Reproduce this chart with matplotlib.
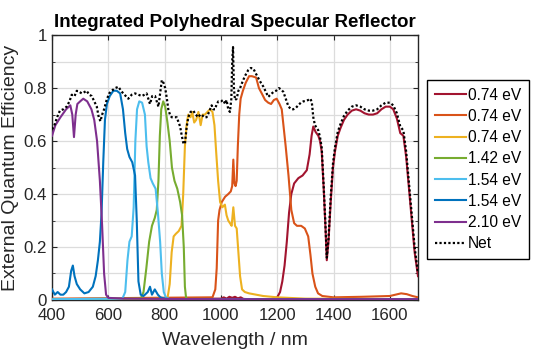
import numpy as np
import matplotlib
matplotlib.use("Agg")
import matplotlib.pyplot as plt
from matplotlib.ticker import MultipleLocator, FormatStrFormatter

# ---- data (wavelength nm, EQE) ----
wl_210 = [400, 412, 430, 450, 465, 472, 478, 484, 490, 500, 511, 525, 540, 550,
          560, 570, 578, 585, 592, 600, 650, 800, 1000, 1700]
eqe_210 = [0.62, 0.66, 0.69, 0.72, 0.735, 0.70, 0.615, 0.70, 0.74, 0.75, 0.76,
           0.75, 0.72, 0.68, 0.60, 0.45, 0.28, 0.10, 0.02, 0.008, 0.005, 0.004,
           0.003, 0.003]

wl_154b = [400, 410, 420, 430, 440, 450, 460, 468, 474, 480, 488, 500, 515, 530,
           545, 555, 563, 570, 576, 582, 588, 595, 605, 618, 630, 642, 652, 660,
           667, 675, 685, 695, 701, 707, 715, 725, 740, 748, 755, 765, 776, 785,
           800, 830, 900, 1700]
eqe_154b = [0.04, 0.02, 0.03, 0.02, 0.02, 0.03, 0.05, 0.11, 0.13, 0.09, 0.06,
            0.04, 0.025, 0.03, 0.05, 0.09, 0.15, 0.22, 0.33, 0.52, 0.68, 0.74,
            0.77, 0.79, 0.79, 0.78, 0.72, 0.63, 0.57, 0.54, 0.52, 0.47, 0.30,
            0.07, 0.02, 0.015, 0.03, 0.05, 0.02, 0.04, 0.02, 0.01, 0.005, 0.003,
            0.002, 0.002]

wl_154a = [400, 650, 660, 668, 675, 683, 690, 696, 702, 710, 720, 730, 736, 742,
           750, 758, 768, 776, 784, 790, 797, 805, 820, 1700]
eqe_154a = [0.003, 0.005, 0.03, 0.15, 0.22, 0.24, 0.35, 0.60, 0.72, 0.75, 0.745,
            0.70, 0.58, 0.52, 0.46, 0.44, 0.42, 0.33, 0.22, 0.10, 0.03, 0.008,
            0.003, 0.002]

wl_142 = [400, 715, 725, 735, 745, 755, 765, 772, 778, 783, 788, 795, 802, 810,
          818, 826, 835, 845, 855, 862, 868, 872, 876, 880, 1700]
eqe_142 = [0.003, 0.005, 0.03, 0.12, 0.22, 0.28, 0.31, 0.34, 0.45, 0.62, 0.72,
           0.75, 0.73, 0.67, 0.60, 0.50, 0.45, 0.42, 0.37, 0.32, 0.20, 0.05,
           0.01, 0.004, 0.002]

wl_074c = [400, 810, 818, 825, 832, 840, 850, 860, 866, 872, 878, 884, 892, 898,
           905, 912, 920, 928, 935, 943, 952, 961, 970, 977, 983, 990, 997, 1005,
           1014, 1020, 1026, 1032, 1038, 1044, 1050, 1056, 1062, 1068, 1075,
           1085, 1100, 1150, 1200, 1300, 1700]
eqe_074c = [0.002, 0.005, 0.06, 0.18, 0.24, 0.25, 0.26, 0.28, 0.40, 0.58, 0.66,
            0.70, 0.69, 0.71, 0.67, 0.68, 0.71, 0.66, 0.70, 0.70, 0.71, 0.72,
            0.71, 0.66, 0.56, 0.45, 0.37, 0.35, 0.36, 0.32, 0.30, 0.29, 0.28,
            0.35, 0.28, 0.27, 0.18, 0.09, 0.04, 0.03, 0.025, 0.015, 0.01, 0.005,
            0.003]

wl_074b = [400, 970, 980, 985, 990, 995, 1003, 1015, 1026, 1035, 1040, 1044,
           1048, 1052, 1056, 1060, 1065, 1070, 1078, 1088, 1100, 1110, 1125,
           1135, 1145, 1157, 1168, 1178, 1188, 1198, 1208, 1216, 1222, 1230,
           1240, 1250, 1260, 1270, 1285, 1298, 1310, 1318, 1325, 1335, 1345,
           1360, 1400, 1500, 1600, 1640, 1660, 1680, 1700]
eqe_074b = [0.005, 0.01, 0.04, 0.12, 0.30, 0.34, 0.37, 0.39, 0.40, 0.41, 0.43,
            0.53, 0.44, 0.43, 0.45, 0.58, 0.70, 0.76, 0.79, 0.82, 0.845, 0.845,
            0.84, 0.80, 0.78, 0.755, 0.745, 0.74, 0.755, 0.76, 0.74, 0.72, 0.66,
            0.58, 0.47, 0.34, 0.29, 0.28, 0.28, 0.27, 0.24, 0.17, 0.10, 0.05,
            0.025, 0.015, 0.01, 0.012, 0.015, 0.025, 0.022, 0.015, 0.01]

wl_074a = [400, 1000, 1010, 1020, 1030, 1040, 1050, 1060, 1070, 1080, 1100,
           1180, 1200, 1210, 1218, 1226, 1234, 1242, 1250, 1260, 1275, 1290,
           1305, 1315, 1322, 1328, 1336, 1346, 1352, 1358, 1365, 1371, 1376,
           1382, 1390, 1398, 1405, 1415, 1425, 1437, 1450, 1465, 1480, 1495,
           1510, 1525, 1540, 1555, 1570, 1585, 1600, 1612, 1625, 1637, 1648,
           1658, 1668, 1678, 1688, 1700]
eqe_074a = [0.003, 0.005, 0.01, 0.005, 0.012, 0.008, 0.012, 0.006, 0.01, 0.004,
            0.003, 0.003, 0.01, 0.03, 0.07, 0.13, 0.22, 0.33, 0.40, 0.44, 0.46,
            0.47, 0.49, 0.55, 0.62, 0.655, 0.635, 0.62, 0.60, 0.56, 0.42, 0.28,
            0.15, 0.22, 0.37, 0.50, 0.56, 0.62, 0.65, 0.68, 0.70, 0.715, 0.72,
            0.715, 0.705, 0.70, 0.70, 0.705, 0.72, 0.73, 0.73, 0.72, 0.685,
            0.63, 0.62, 0.54, 0.42, 0.30, 0.18, 0.09]

wl_net = [400, 407, 418, 428, 440, 452, 462, 470, 480, 488, 498, 506, 515, 523,
          532, 541, 550, 559, 566, 572, 578, 585, 594, 603, 612, 624, 636, 645,
          653, 662, 671, 683, 695, 707, 719, 728, 736, 742, 748, 756, 766, 772,
          778, 784, 790, 796, 802, 808, 813, 819, 825, 834, 843, 850, 855, 861,
          867, 872, 878, 884, 892, 902, 910, 920, 926, 932, 940, 949, 958, 967,
          973, 979, 985, 991, 1000, 1008, 1015, 1020, 1026, 1032, 1037, 1040,
          1043, 1046, 1050, 1056, 1062, 1068, 1074, 1085, 1097, 1106, 1115,
          1124, 1133, 1142, 1151, 1160, 1168, 1176, 1186, 1196, 1206, 1214,
          1222, 1230, 1240, 1250, 1257, 1266, 1275, 1284, 1293, 1302, 1310,
          1318, 1323, 1328, 1334, 1340, 1346, 1352, 1358, 1365, 1371, 1376,
          1382, 1390, 1398, 1405, 1415, 1425, 1437, 1450, 1465, 1480, 1495,
          1510, 1525, 1540, 1555, 1570, 1585, 1600, 1612, 1625, 1637, 1648,
          1658, 1668, 1678, 1688, 1700]
eqe_net = [0.645, 0.655, 0.69, 0.715, 0.72, 0.73, 0.75, 0.775, 0.77, 0.79,
           0.785, 0.78, 0.785, 0.79, 0.775, 0.77, 0.75, 0.73, 0.69, 0.675, 0.70,
           0.72, 0.755, 0.78, 0.79, 0.80, 0.805, 0.79, 0.78, 0.77, 0.76, 0.775,
           0.78, 0.775, 0.77, 0.775, 0.78, 0.76, 0.74, 0.77, 0.77, 0.75, 0.73,
           0.78, 0.83, 0.82, 0.80, 0.76, 0.72, 0.70, 0.69, 0.69, 0.69, 0.67,
           0.655, 0.62, 0.59, 0.59, 0.65, 0.69, 0.71, 0.715, 0.70, 0.69, 0.70,
           0.70, 0.69, 0.69, 0.71, 0.735, 0.72, 0.72, 0.74, 0.75, 0.75, 0.755,
           0.74, 0.755, 0.72, 0.71, 0.76, 0.90, 0.955, 0.80, 0.755, 0.76, 0.79,
           0.80, 0.817, 0.845, 0.868, 0.876, 0.874, 0.855, 0.837, 0.82, 0.805,
           0.785, 0.767, 0.775, 0.785, 0.79, 0.80, 0.795, 0.785, 0.76, 0.73,
           0.72, 0.72, 0.725, 0.736, 0.745, 0.75, 0.752, 0.755, 0.76, 0.745,
           0.69, 0.66, 0.65, 0.64, 0.615, 0.575, 0.43, 0.29, 0.16, 0.23, 0.39,
           0.515, 0.575, 0.635, 0.665, 0.695, 0.715, 0.73, 0.735, 0.73, 0.72,
           0.715, 0.715, 0.72, 0.735, 0.745, 0.745, 0.735, 0.705, 0.655, 0.64,
           0.56, 0.44, 0.32, 0.20, 0.10]

series = [
    (wl_074a, eqe_074a, "0.74 eV", "#A2142F"),
    (wl_074b, eqe_074b, "0.74 eV", "#D95319"),
    (wl_074c, eqe_074c, "0.74 eV", "#EDB120"),
    (wl_142, eqe_142, "1.42 eV", "#77AC30"),
    (wl_154a, eqe_154a, "1.54 eV", "#4DBEEE"),
    (wl_154b, eqe_154b, "1.54 eV", "#0072BD"),
    (wl_210, eqe_210, "2.10 eV", "#7E2F8E"),
]

plt.rcParams["font.family"] = ["Liberation Sans", "DejaVu Sans"]
txt = "#262626"

fig = plt.figure(figsize=(5.43, 3.55), dpi=100)
ax = fig.add_axes([0.0958, 0.155, 0.674, 0.746])

for wl, eqe, lab, col in series:
    ax.plot(wl, eqe, color=col, lw=1.5, label=lab, zorder=3)
ax.plot(wl_net, eqe_net, color="black", ls=(0, (1, 1)), lw=1.6, label="Net", zorder=4)

ax.set_xlim(400, 1700)
ax.set_ylim(0, 1)
ax.xaxis.set_major_locator(MultipleLocator(200))
ax.yaxis.set_major_locator(MultipleLocator(0.2))
ax.yaxis.set_minor_locator(MultipleLocator(0.1))
ax.yaxis.set_major_formatter(FormatStrFormatter("%g"))
ax.grid(True, which="both", color="#dcdcdc", lw=0.9, zorder=0)
ax.set_axisbelow(True)
ax.tick_params(which="both", direction="in", top=True, right=True,
               labelsize=12.2, colors=txt, length=3.5)
ax.tick_params(which="minor", length=2.5)
ax.tick_params(axis="x", pad=6)
ax.tick_params(axis="y", pad=3.5)
for s in ax.spines.values():
    s.set_color(txt)
    s.set_linewidth(1.0)

ax.set_xlabel("Wavelength / nm", fontsize=14, color=txt, labelpad=6)
ax.set_ylabel("External Quantum Efficiency", fontsize=14, color=txt, labelpad=3)
ax.set_title("Integrated Polyhedral Specular Reflector", fontsize=13.5,
             fontweight="bold", pad=6)

leg = ax.legend(loc="upper left", bbox_to_anchor=(0.786, 0.775),
                bbox_transform=fig.transFigure, borderaxespad=0,
                fancybox=False, edgecolor="black", framealpha=1,
                fontsize=11.2, handlelength=2.0, handletextpad=0.15,
                labelspacing=0.4, borderpad=0.5)
leg.get_frame().set_linewidth(1.0)

fig.savefig("out.png", dpi=100)
